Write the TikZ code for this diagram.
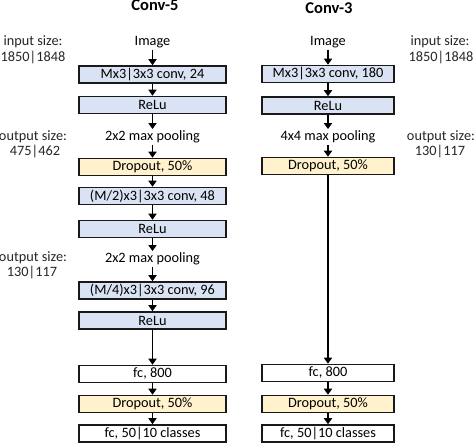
\documentclass[tikz,border=0pt]{standalone}
\usepackage{fontspec}
\setmainfont{Carlito}
\usetikzlibrary{arrows.meta}
\definecolor{convblue}{HTML}{DAE3F3}
\definecolor{dropyellow}{HTML}{FFF2CC}
\newcommand{\fsz}{\fontsize{14.3}{16}\selectfont}
\newcommand{\ftitle}{\fontsize{16.5}{18}\selectfont\bfseries}
\begin{document}
\begin{tikzpicture}[x=1pt,y=1pt,
  boxl/.style={draw=black!90, line width=1.5pt, minimum width=147pt, minimum height=17pt, inner sep=0pt, font=\fsz},
  boxr/.style={boxl, minimum width=132pt},
  convbox/.style={fill=convblue},
  dropbox/.style={fill=dropyellow},
  fcbox/.style={fill=white},
  plain/.style={font=\fsz, inner sep=1.5pt},
  sidelbl/.style={font=\fsz, inner sep=0pt, text=black!85},
  ttl/.style={font=\ftitle, inner sep=0pt},
  arr/.style={line width=1.7pt, -{Triangle[width=8pt,length=6pt]}}
]
\useasboundingbox (0,0) rectangle (474,-443);
% titles
\node[ttl] (t5) at (155,-5.5) {Conv-5};
\node[ttl] (t3) at (329,-8) {Conv-3};
% left column
\node[plain] (img5) at (152.5,-42) {Image};
\node[boxl,convbox] (c51) at (152.5,-74.5) {Mx3|3x3 conv, 24};
\node[boxl,convbox] (r51) at (152.5,-105) {ReLu};
\node[plain] (p51) at (152.5,-137) {2x2 max pooling};
\node[boxl,dropbox] (d51) at (152.5,-167) {Dropout, 50\%};
\node[boxl,convbox] (c52) at (152.5,-196) {(M/2)x3|3x3 conv, 48};
\node[boxl,convbox] (r52) at (152.5,-229) {ReLu};
\node[plain] (p52) at (152.5,-259) {2x2 max pooling};
\node[boxl,convbox] (c53) at (152.5,-290.5) {(M/4)x3|3x3 conv, 96};
\node[boxl,convbox] (r53) at (152.5,-320.5) {ReLu};
\node[boxl,fcbox] (f51) at (152.5,-374) {fc, 800};
\node[boxl,dropbox] (d52) at (152.5,-404) {Dropout, 50\%};
\node[boxl,fcbox] (f52) at (152.5,-433.5) {fc, 50|10 classes};
\draw[arr] (img5) -- (c51);
\draw[arr] (c51) -- (r51);
\draw[arr] (r51) -- (p51);
\draw[arr] (p51) -- (d51);
\draw[arr] (d51) -- (c52);
\draw[arr] (c52) -- (r52);
\draw[arr] (r52) -- (p52);
\draw[arr] (p52) -- (c53);
\draw[arr] (c53) -- (r53);
\draw[arr] (r53) -- (f51);
\draw[arr] (f51) -- (d52);
\draw[arr] (d52) -- (f52);
% right column
\node[plain] (img3) at (328,-42) {Image};
\node[boxr,convbox] (c31) at (328,-74) {Mx3|3x3 conv, 180};
\node[boxr,convbox] (r31) at (328,-105.5) {ReLu};
\node[plain] (p31) at (328,-137) {4x4 max pooling};
\node[boxr,dropbox] (d31) at (328,-166) {Dropout, 50\%};
\node[boxr,fcbox] (f31) at (328,-373) {fc, 800};
\node[boxr,dropbox] (d32) at (328,-404) {Dropout, 50\%};
\node[boxr,fcbox] (f32) at (328,-433.5) {fc, 50|10 classes};
\draw[arr] (img3) -- (c31);
\draw[arr] (c31) -- (r31);
\draw[arr] (r31) -- (p31);
\draw[arr] (p31) -- (d31);
\draw[arr] (d31) -- (f31);
\draw[arr] (f31) -- (d32);
\draw[arr] (d32) -- (f32);
% side labels left
\node[sidelbl] (li1) at (33,-42) {input size:};
\node[sidelbl] (li2) at (33,-58) {1850|1848};
\node[sidelbl] (lo1) at (33,-137) {output size:};
\node[sidelbl] (lo2) at (35,-152) {475|462};
\node[sidelbl] (lo3) at (33,-258) {output size:};
\node[sidelbl] (lo4) at (32,-273) {130|117};
% side labels right
\node[sidelbl] (ri1) at (440,-42) {input size:};
\node[sidelbl] (ri2) at (441,-58) {1850|1848};
\node[sidelbl] (ro1) at (441,-137) {output size:};
\node[sidelbl] (ro2) at (440,-152) {130|117};
\end{tikzpicture}
\end{document}
